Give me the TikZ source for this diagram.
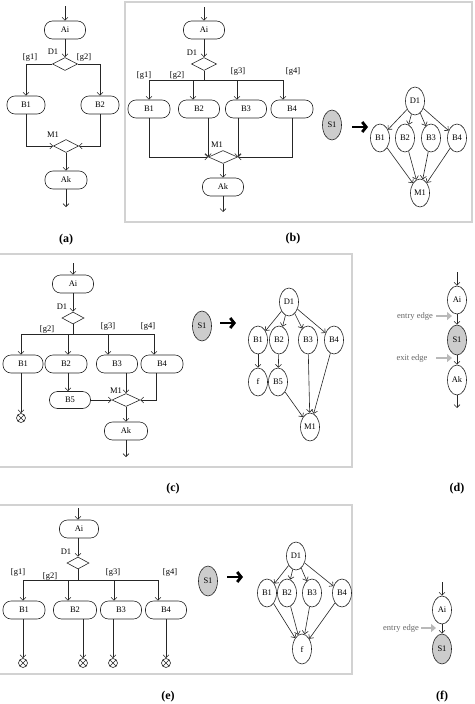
\documentclass[tikz,border=0pt]{standalone}
\usepackage{fontspec}
\setmainfont{Liberation Serif}
\usetikzlibrary{shapes.geometric,arrows.meta}
\newcommand\fsz{\fontsize{8.5}{10}\selectfont}
\begin{document}
\begin{tikzpicture}[x=1pt,y=-1pt,
 ln/.style={draw=black!85, line width=0.6pt},
 arr/.style={ln, -{Straight Barb[length=3pt,width=6pt]}},
 act/.style={draw=black!85, line width=0.6pt, rectangle, rounded corners=8pt, minimum width=41pt, minimum height=18pt, inner sep=0pt, font=\fsz},
 dec/.style={draw=black!85, line width=0.6pt, diamond, minimum width=25pt, minimum height=13pt, inner sep=0pt},
 ell/.style={draw=black!85, line width=0.6pt, ellipse, minimum width=19pt, minimum height=28pt, inner sep=0pt, font=\fsz},
 sel/.style={ell, fill=gray!40, minimum height=30pt},
 fin/.style={circle, draw=black!85, line width=0.6pt, minimum size=9pt, inner sep=0pt,
   path picture={\draw[line width=0.6pt] (path picture bounding box.north west) -- (path picture bounding box.south east) (path picture bounding box.north east) -- (path picture bounding box.south west);}},
 lbl/.style={font=\fsz, inner sep=0pt},
 capt/.style={font=\fontsize{12}{14}\selectfont\bfseries, inner sep=0pt},
 frm/.style={draw=gray!35, line width=1.2pt},
 big/.style={line width=2.8pt, -{Straight Barb[length=4pt,width=10pt]}},
 gar/.style={draw=gray!55, line width=2.8pt, -{Triangle[length=5pt,width=8pt]}},
 gtx/.style={font=\fsz, text=black!60, inner sep=0pt}
]
\useasboundingbox (0,0) rectangle (474,704);

%% ---------------- (a)
\coordinate (aIn) at (65,6);
\node[act] (aAi) at (65,30) {Ai};
\draw[arr] (aIn) -- (aAi);
\node[dec] (aD1) at (65,64) {};
\node[lbl] (aD1l) at (53,52) {D1};
\draw[arr] (aAi) -- (aD1);
\node[act, minimum width=38pt] (aB1) at (26,105) {B1};
\node[act, minimum width=38pt] (aB2) at (100,105) {B2};
\draw[arr] (aD1.west) -| (aB1);
\draw[arr] (aD1.east) -| (aB2);
\node[lbl] (ag1) at (30,57) {[g1]};
\node[lbl] (ag2) at (84,57) {[g2]};
\node[dec] (aM1) at (66,146) {};
\node[lbl] (aM1l) at (53,135) {M1};
\draw[arr] (aB1) |- (aM1.west);
\draw[arr] (aB2) |- (aM1.east);
\node[act, minimum width=42pt] (aAk) at (66,180) {Ak};
\draw[arr] (aM1) -- (aAk);
\coordinate (aOut) at (66,207);
\draw[arr] (aAk) -- (aOut);
\node[capt] (acap) at (66,240) {(a)};

%% ---------------- (b)
\draw[frm] (125,2) rectangle (472,222);
\coordinate (bIn) at (204,7);
\node[act] (bAi) at (204,30) {Ai};
\draw[arr] (bIn) -- (bAi);
\node[dec] (bD1) at (204,64) {};
\node[lbl] (bD1l) at (192,53) {D1};
\draw[arr] (bAi) -- (bD1);
\coordinate (bBar) at (204,80);
\coordinate (bb1) at (149,80);
\coordinate (bb2) at (193,80);
\coordinate (bb3) at (237,80);
\coordinate (bb4) at (283,80);
\draw[ln] (bD1.south) -- (bBar);
\draw[ln] (bb1) -- (bb4);
\node[act, minimum width=42pt] (bB1) at (149,109) {B1};
\node[act] (bB2) at (199,109) {B2};
\node[act] (bB3) at (246,109) {B3};
\node[act, minimum width=42pt] (bB4) at (292,109) {B4};
\draw[arr] (bb1) -- (bb1 |- bB1.north);
\draw[arr] (bb2) -- (bb2 |- bB2.north);
\draw[arr] (bb3) -- (bb3 |- bB3.north);
\draw[arr] (bb4) -- (bb4 |- bB4.north);
\node[lbl] (bg1) at (144,75) {[g1]};
\node[lbl] (bg2) at (177,75) {[g2]};
\node[lbl] (bg3) at (238,71) {[g3]};
\node[lbl] (bg4) at (293,71) {[g4]};
\node[dec, minimum width=29pt] (bM1) at (223,157) {};
\node[lbl] (bM1l) at (217,145) {M1};
\draw[arr] (bB1.south) |- (bM1.west);
\draw[arr] (bB2.south -| bM1.west) -- (bM1.west);
\draw[arr] (bB3.south -| bM1.east) -- (bM1.east);
\draw[arr] (bB4.south) |- (bM1.east);
\node[act] (bAk) at (223,187) {Ak};
\draw[arr] (bM1) -- (bAk);
\coordinate (bOut) at (223,212);
\draw[arr] (bAk) -- (bOut);
\node[capt] (bcap) at (293,239) {(b)};
% right part
\node[sel] (bS1) at (332,125) {S1};
\coordinate (bA1) at (352,127);
\coordinate (bA2) at (368,127);
\draw[big] (bA1) -- (bA2);
\node[ell] (bGD1) at (415,101) {D1};
\node[ell] (bGB1) at (380,138) {B1};
\node[ell] (bGB2) at (405,138) {B2};
\node[ell] (bGB3) at (431,138) {B3};
\node[ell] (bGB4) at (457,138) {B4};
\node[ell] (bGM1) at (420,193) {M1};
\foreach \t in {bGB1,bGB2,bGB3,bGB4}{
  \draw[arr] (bGD1) -- (\t);
  \draw[arr] (\t) -- (bGM1);
}

%% ---------------- (c)
\draw[frm] (-5,254) rectangle (352,467);
\coordinate (cIn) at (73,263);
\node[act] (cAi) at (73,284) {Ai};
\draw[arr] (cIn) -- (cAi);
\node[dec, minimum width=22pt, minimum height=12pt] (cD1) at (73,318) {};
\node[lbl] (cD1l) at (62,307) {D1};
\draw[arr] (cAi) -- (cD1);
\coordinate (cBar) at (73,334);
\coordinate (cc1) at (21,334);
\coordinate (cc2) at (68,334);
\coordinate (cc3) at (108,334);
\coordinate (cc4) at (154,334);
\draw[ln] (cD1.south) -- (cBar);
\draw[ln] (cc1) -- (cc4);
\node[act, minimum width=40pt] (cB1) at (23,364) {B1};
\node[act, minimum width=42pt] (cB2) at (66,364) {B2};
\node[act] (cB3) at (117,364) {B3};
\node[act, minimum width=42pt] (cB4) at (162,364) {B4};
\draw[arr] (cc1) -- (cc1 |- cB1.north);
\draw[arr] (cc2) -- (cc2 |- cB2.north);
\draw[arr] (cc3) -- (cc3 |- cB3.north);
\draw[arr] (cc4) -- (cc4 |- cB4.north);
\node[lbl] (cg2) at (47,329) {[g2]};
\node[lbl] (cg3) at (108,326) {[g3]};
\node[lbl] (cg4) at (148,326) {[g4]};
\node[fin] (cF1) at (21,418) {};
\draw[arr] (cF1 |- cB1.south) -- (cF1);
\node[act, minimum height=17pt] (cB5) at (70,400) {B5};
\draw[arr] (cB2.south -| cc2) -- (cB5.north -| cc2);
\node[dec, minimum width=28pt] (cM1) at (126,400) {};
\node[lbl] (cM1l) at (116,391) {M1};
\draw[arr] (cB5) -- (cM1);
\draw[arr] (cB3.south -| cM1.north) -- (cM1.north);
\draw[arr] ([xshift=-6pt]cB4.south) |- (cM1.east);
\node[act, minimum width=43pt] (cAk) at (126,431) {Ak};
\draw[arr] (cM1) -- (cAk);
\coordinate (cOut) at (126,457);
\draw[arr] (cAk) -- (cOut);
\node[capt] (ccap) at (173,489) {(c)};
% right part
\node[sel] (cS1) at (202,326) {S1};
\coordinate (cA1) at (220,323);
\coordinate (cA2) at (236,323);
\draw[big] (cA1) -- (cA2);
\node[ell] (cGD1) at (289,302) {D1};
\node[ell] (cGB1) at (258,340) {B1};
\node[ell] (cGB2) at (279,340) {B2};
\node[ell] (cGB3) at (308,340) {B3};
\node[ell] (cGB4) at (334,340) {B4};
\node[ell] (cGf) at (258,382) {f};
\node[ell] (cGB5) at (278,382) {B5};
\node[ell] (cGM1) at (310,427) {M1};
\foreach \t in {cGB1,cGB2,cGB3,cGB4}{\draw[arr] (cGD1) -- (\t);}
\draw[arr] (cGB1) -- (cGf);
\draw[arr] (cGB2) -- (cGB5);
\draw[arr] (cGB5) -- (cGM1);
\draw[arr] (cGB3) -- (cGM1);
\draw[arr] (cGB4) -- (cGM1);

%% ---------------- (d)
\coordinate (dIn) at (457,272);
\node[ell] (dAi) at (457,300) {Ai};
\node[sel] (dS1) at (457,340) {S1};
\node[ell, minimum height=30pt] (dAk) at (457,380) {Ak};
\coordinate (dOut) at (457,408);
\draw[arr] (dIn) -- (dAi);
\draw[arr] (dAi) -- (dS1);
\draw[arr] (dS1) -- (dAk);
\draw[arr] (dAk) -- (dOut);
\node[gtx] (dEn) at (415,316) {entry edge};
\coordinate (dE1) at (436,316);
\coordinate (dE2) at (452,316);
\draw[gar] (dE1) -- (dE2);
\node[gtx] (dEx) at (412,358) {exit edge};
\coordinate (dX1) at (436,358);
\coordinate (dX2) at (452,358);
\draw[gar] (dX1) -- (dX2);
\node[capt] (dcap) at (457,489) {(d)};

%% ---------------- (e)
\draw[frm] (-5,505) rectangle (352,674);
\coordinate (eIn) at (78,508);
\node[act, minimum width=39pt] (eAi) at (79,529) {Ai};
\draw[arr] (eIn) -- (eIn |- eAi.north);
\node[dec, minimum width=22pt, minimum height=12pt] (eD1) at (78,563) {};
\node[lbl] (eD1l) at (66,552) {D1};
\draw[arr] (eAi.south -| eD1) -- (eD1);
\coordinate (eBar) at (78,580);
\coordinate (ee1) at (23,580);
\coordinate (ee2) at (68,580);
\coordinate (ee3) at (114,580);
\coordinate (ee4) at (158,580);
\draw[ln] (eD1.south) -- (eBar);
\draw[ln] (ee1) -- (ee4);
\node[act, minimum width=42pt] (eB1) at (24,610) {B1};
\node[act, minimum width=43pt] (eB2) at (75,610) {B2};
\node[act] (eB3) at (121,610) {B3};
\node[act] (eB4) at (166,610) {B4};
\draw[arr] (ee1) -- (ee1 |- eB1.north);
\draw[arr] (ee2) -- (ee2 |- eB2.north);
\draw[arr] (ee3) -- (ee3 |- eB3.north);
\draw[arr] (ee4) -- (ee4 |- eB4.north);
\node[lbl] (eg1) at (18,572) {[g1]};
\node[lbl] (eg2) at (50,576) {[g2]};
\node[lbl] (eg3) at (113,572) {[g3]};
\node[lbl] (eg4) at (170,572) {[g4]};
\node[fin] (eF1) at (23,663) {};
\node[fin] (eF2) at (83,663) {};
\node[fin] (eF3) at (113,663) {};
\node[fin] (eF4) at (166,663) {};
\draw[arr] (eF1 |- eB1.south) -- (eF1);
\draw[arr] (eF2 |- eB2.south) -- (eF2);
\draw[arr] (eF3 |- eB3.south) -- (eF3);
\draw[arr] (eF4 |- eB4.south) -- (eF4);
\node[capt] (ecap) at (168,697) {(e)};
% right part
\node[sel] (eS1) at (208,581) {S1};
\coordinate (eA1) at (227,577);
\coordinate (eA2) at (243,577);
\draw[big] (eA1) -- (eA2);
\node[ell] (eGD1) at (296,556) {D1};
\node[ell] (eGB1) at (267,593) {B1};
\node[ell] (eGB2) at (287,593) {B2};
\node[ell] (eGB3) at (312,593) {B3};
\node[ell] (eGB4) at (342,593) {B4};
\node[ell, minimum height=30pt] (eGf) at (302,649) {f};
\foreach \t in {eGB1,eGB2,eGB3,eGB4}{
  \draw[arr] (eGD1) -- (\t);
  \draw[arr] (\t) -- (eGf);
}

%% ---------------- (f)
\coordinate (fIn) at (442,582);
\node[ell] (fAi) at (442,610) {Ai};
\node[sel] (fS1) at (442,649) {S1};
\draw[arr] (fIn) -- (fAi);
\draw[arr] (fAi) -- (fS1);
\node[gtx] (fEn) at (401,628) {entry edge};
\coordinate (fE1) at (421,628);
\coordinate (fE2) at (436,628);
\draw[gar] (fE1) -- (fE2);
\node[capt] (fcap) at (442,697) {(f)};
\end{tikzpicture}
\end{document}
